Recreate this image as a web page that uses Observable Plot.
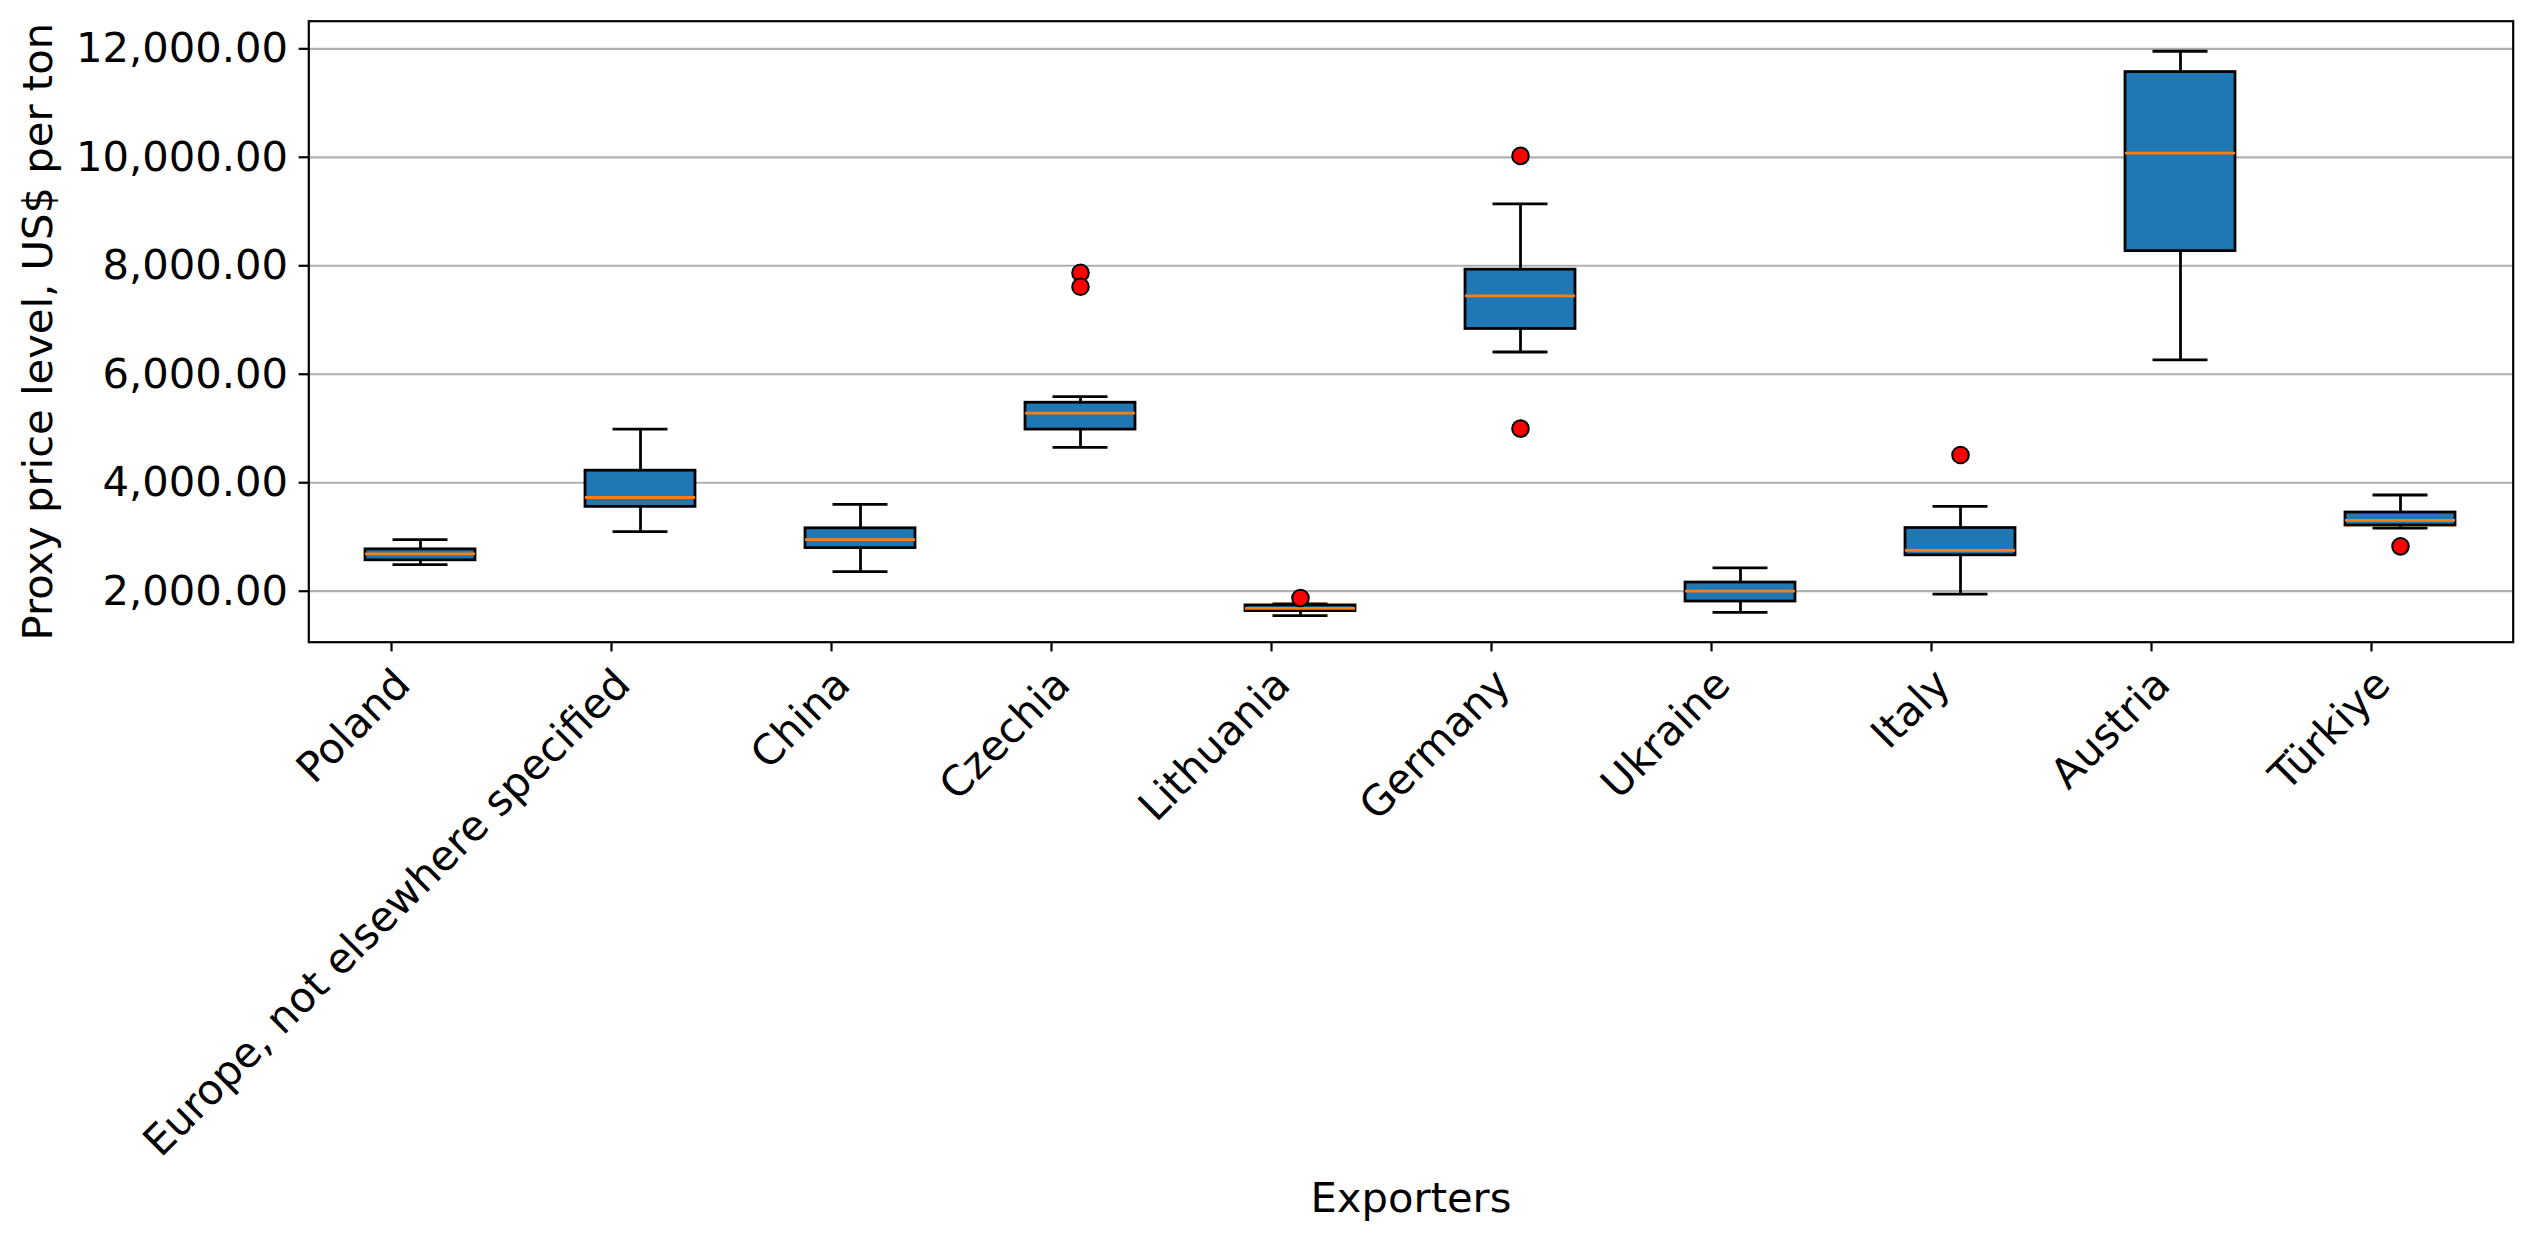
<!DOCTYPE html>
<html>
<head>
<meta charset="utf-8">
<script src="https://cdn.jsdelivr.net/npm/d3@7"></script>
<script src="https://cdn.jsdelivr.net/npm/@observablehq/plot@0.6"></script>
<style>
  body { margin: 0; background: #fff; }
  svg { display: block; }
</style>
</head>
<body>
<div id="chart"></div>
<script>
// Proxy price level per exporter (US$ per ton): box-plot summary statistics
const exporters = ["Poland", "Europe, not elsewhere specified", "China", "Czechia", "Lithuania",
                   "Germany", "Ukraine", "Italy", "Austria", "Türkiye"];
const whiskerLow  = [2490, 3100, 2360, 4650, 1550, 6410, 1610, 1945, 6265, 3165];
const q1          = [2570, 3555, 2795, 4980, 1633, 6835, 1810, 2662, 8270, 3211];
const median      = [2690, 3728, 2952, 5285, 1685, 7443, 2000, 2752, 10075, 3308];
const q3          = [2772, 4222, 3160, 5475, 1738, 7928, 2160, 3165, 11571, 3451];
const whiskerHigh = [2951, 4988, 3599, 5587, 1764, 9141, 2430, 3564, 11955, 3774];

// Points beyond the whiskers
const outlierExporters = ["Czechia", "Czechia", "Lithuania", "Germany", "Germany", "Italy", "Türkiye"];
const outlierValues    = [7869, 7613, 1875, 10026, 4997, 4511, 2827];

const yTicks = [2000, 4000, 6000, 8000, 10000, 12000];

const boxes = exporters.map((name, i) => ({
  name, lo: whiskerLow[i], q1: q1[i], med: median[i], q3: q3[i], hi: whiskerHigh[i]
}));
const outliers = outlierExporters.map((name, i) => ({name, value: outlierValues[i]}));

const lw = 2.78;     // box and whisker line width
const capInset = 27.5;

const chart = Plot.plot({
  width: 2534,
  height: 1241,
  marginTop: 20.7,
  marginBottom: 599.3,
  marginLeft: 308.3,
  marginRight: 21.3,
  style: {fontFamily: "'DejaVu Sans', sans-serif", fontSize: "41.7px", color: "black", background: "white"},
  x: {domain: exporters, paddingInner: 0.5, paddingOuter: 0.25},
  y: {domain: [1060, 12509]},
  marks: [
    Plot.gridY(yTicks, {stroke: "#b0b0b0", strokeOpacity: 1, strokeWidth: 2.2}),
    // whiskers
    Plot.ruleX(boxes, {x: "name", y1: "lo", y2: "q1", stroke: "black", strokeWidth: lw}),
    Plot.ruleX(boxes, {x: "name", y1: "q3", y2: "hi", stroke: "black", strokeWidth: lw}),
    // whisker caps
    Plot.tickY(boxes, {x: "name", y: "lo", stroke: "black", strokeWidth: lw, insetLeft: capInset, insetRight: capInset}),
    Plot.tickY(boxes, {x: "name", y: "hi", stroke: "black", strokeWidth: lw, insetLeft: capInset, insetRight: capInset}),
    // interquartile boxes
    Plot.rectY(boxes, {x: "name", y1: "q1", y2: "q3", fill: "#1f77b4", stroke: "black", strokeWidth: lw}),
    // medians
    Plot.tickY(boxes, {x: "name", y: "med", stroke: "#ff7f0e", strokeWidth: lw}),
    // outliers
    Plot.dot(outliers, {x: "name", y: "value", r: 8.3, fill: "red", stroke: "black", strokeWidth: 2}),
    Plot.frame({stroke: "black", strokeWidth: 2.2}),
    Plot.axisY(yTicks, {
      tickFormat: d3.format(",.2f"),
      tickSize: 9.7,
      tickPadding: 11,
      strokeWidth: 2.2,
      fontSize: 41.7,
      label: "Proxy price level, US$ per ton",
      labelAnchor: "center",
      labelArrow: "none",
      labelOffset: 286
    }),
    Plot.axisX({
      tickRotate: -45,
      tickSize: 9.7,
      tickPadding: 14,
      strokeWidth: 2.2,
      fontSize: 41.7,
      textAnchor: "end",
      lineAnchor: "top",
      dx: -29,
      label: "Exporters",
      labelAnchor: "center",
      labelArrow: "none",
      labelOffset: 570
    })
  ]
});

document.getElementById("chart").appendChild(chart);
</script>
</body>
</html>
